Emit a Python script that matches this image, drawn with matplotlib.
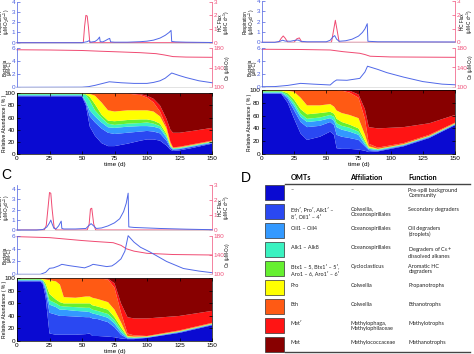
import matplotlib
matplotlib.use("Agg")
import matplotlib.pyplot as plt
from matplotlib.patches import Rectangle

plt.rcParams['font.family'] = ['Liberation Sans', 'DejaVu Sans']

# ---------------- data ----------------
LAYER_COLORS = ['#0a0ad2', '#2a48f2', '#3399ff', '#3af2c0', '#66f030',
                '#ffff00', '#ff5a14', '#ff1414', '#880000']

# Panel A
A_resp_t = [0, 50, 52, 54, 55.5, 56.5, 58, 60, 62, 63.5, 64, 66, 68, 70, 71.3, 72, 75, 85, 95, 100, 105, 110, 114, 117, 118.5, 119, 122, 130, 150]
A_resp   = [0, 0, 0.05, 0.1, 0.2, 0.05, 0.08, 0.12, 0.3, 0.55, 0.1, 0.08, 0.2, 0.35, 0.42, 0.08, 0.05, 0.05, 0.1, 0.15, 0.25, 0.45, 0.72, 1.0, 1.2, 0.12, 0.08, 0.05, 0.02]
A_hc_t = [0, 51, 52, 53, 54, 55, 56, 150]
A_hc   = [0, 0, 1.2, 2.0, 1.95, 1.1, 0, 0]
A_bact_t = [0, 50, 55, 60, 65, 71, 80, 90, 100, 105, 110, 114, 119, 125, 130, 140, 150]
A_bact   = [0, 0.02, 0.1, 0.3, 0.55, 0.85, 0.7, 0.6, 0.6, 0.75, 1.0, 1.4, 2.2, 1.8, 1.5, 1.0, 0.7]
A_o2_t = [0, 25, 50, 64, 80, 95, 107, 113, 120, 130, 150]
A_o2   = [177, 176.5, 175.5, 174, 172.5, 171, 169, 166.5, 163, 162, 161.5]
A_ab_t  = [0, 50, 53, 56, 60, 65, 70, 75, 85, 95, 100, 105, 110, 115, 118, 120, 125, 135, 150]
A_bg    = [95, 95, 80, 45, 30, 18, 13, 13, 17, 22, 24, 24, 22, 14, 7, 5, 6, 10, 17]
A_sec   = [96, 96, 84, 62, 52, 42, 35, 33, 35, 37, 38, 37, 34, 22, 10, 7, 8, 12, 18]
A_oil   = [97, 97, 86, 72, 62, 52, 44, 43, 45, 46, 46, 45, 42, 27, 12, 8, 9, 13, 19]
A_alk   = [98.5, 98.5, 97, 88, 72, 60, 50, 48, 50, 51, 52, 50, 46, 30, 13, 9, 10, 14, 20]
A_aro   = [99, 99, 98.5, 94, 82, 65, 55, 54, 56, 57, 57, 55, 50, 33, 14, 9.5, 10.5, 14.5, 20.5]
A_pro   = [99.5, 99.5, 99.5, 99, 96, 85, 72, 70, 72, 72, 72, 70, 62, 42, 18, 10, 11, 15, 21]
A_eth   = [100, 100, 100, 100, 100, 100, 100, 100, 99.5, 97, 93, 85, 70, 45, 20, 11, 12, 16, 22]
A_metp  = [100, 100, 100, 100, 100, 100, 100, 100, 100, 98.5, 96, 91, 80, 58, 40, 35, 35, 38, 43]

# Panel B
B_resp_t = [0, 10, 14, 16, 18, 22, 26, 28, 30, 35, 50, 53, 55, 56.5, 58, 60, 65, 70, 75, 78, 80, 81.8, 82.3, 90, 150]
B_resp   = [0, 0, 0.1, 0.2, 0.12, 0.1, 0.2, 0.22, 0.1, 0.05, 0.05, 0.2, 0.5, 0.65, 0.3, 0.1, 0.15, 0.3, 0.6, 0.95, 1.3, 1.8, 0.1, 0.05, 0.03]
B_hc_t = [0, 13, 15, 16.5, 18, 20, 25, 27, 29, 31, 54, 55.5, 57, 58.5, 60, 150]
B_hc   = [0, 0, 0.3, 0.46, 0.3, 0, 0, 0.25, 0.32, 0, 0, 0.8, 1.6, 0.8, 0, 0]
B_bact_t = [0, 10, 20, 30, 40, 53, 56, 58, 66, 76, 80, 82, 90, 97, 110, 125, 140, 150]
B_bact   = [0, 0.02, 0.2, 0.52, 0.4, 0.27, 0.8, 1.05, 1.0, 1.3, 2.3, 3.2, 2.7, 2.2, 1.5, 0.8, 0.4, 0.3]
B_o2_t = [0, 30, 53, 63, 76, 80, 84, 100, 150]
B_o2   = [178, 177.5, 176.5, 173, 169.6, 167, 163.5, 162, 161.2]
B_ab_t  = [0, 15, 20, 25, 30, 35, 45, 53, 56, 58, 62, 68, 75, 80, 83, 90, 110, 130, 150]
B_bg    = [94, 94, 80, 55, 32, 22, 27, 35, 30, 9, 8, 8, 7, 5, 3, 4, 12, 25, 45]
B_sec   = [95, 95, 86, 68, 50, 42, 44, 50, 45, 30, 27, 25, 22, 12, 6, 5, 13, 26, 46]
B_oil   = [96, 96, 89, 75, 58, 50, 52, 56, 52, 42, 38, 35, 30, 15, 8, 6, 14, 27, 46.5]
B_alk   = [97.5, 97.5, 92, 80, 63, 55, 57, 61, 58, 48, 44, 41, 35, 18, 9, 7, 14.5, 27.5, 47]
B_aro   = [98.5, 98.5, 95, 85, 70, 62, 64, 66, 63, 55, 50, 46, 40, 21, 10, 7.5, 15, 28, 47.5]
B_pro   = [99.5, 99.5, 99, 97, 88, 76, 76, 78, 74, 68, 64, 61, 56, 30, 12, 8, 15.5, 28.5, 48]
B_eth   = [100, 100, 100, 100, 100, 100, 100, 100, 100, 100, 99, 96, 88, 55, 16, 10, 17, 30, 49]
B_metp  = [100, 100, 100, 100, 100, 100, 100, 100, 100, 100, 100, 99, 93, 70, 42, 40, 42, 48, 61]

# Panel C
C_resp_t = [0, 15, 20, 23, 25, 26, 27, 28.5, 30, 32, 34, 34.5, 36, 45, 53, 55, 57, 59, 61, 65, 70, 75, 79, 82, 84, 85.5, 86, 90, 110, 130, 150]
C_resp   = [0, 0, 0.05, 0.3, 0.7, 0.97, 0.6, 0.15, 0.1, 0.4, 0.87, 0.15, 0.1, 0.1, 0.15, 0.4, 0.62, 0.4, 0.15, 0.2, 0.4, 0.7, 1.1, 1.8, 2.6, 3.6, 0.3, 0.25, 0.15, 0.08, 0.03]
C_hc_t = [0, 21, 22.5, 24, 25, 26, 27, 28.5, 30, 54, 55.5, 56.5, 57.5, 59, 60.5, 150]
C_hc   = [0, 0, 0.3, 1.6, 2.5, 2.45, 1.4, 0.2, 0, 0, 0.4, 1.4, 1.45, 0.4, 0, 0]
C_bact_t = [0, 18, 22, 25, 28, 32, 34.5, 40, 47, 52, 56, 58.5, 63, 69, 73, 76, 80, 83, 85.5, 90, 95, 102, 115, 128, 140, 150]
C_bact   = [0, 0, 0.3, 0.93, 1.0, 1.3, 1.55, 1.35, 1.15, 1.0, 1.3, 1.55, 1.4, 1.2, 1.3, 1.7, 2.4, 3.6, 6.0, 5.0, 4.2, 3.5, 2.0, 0.9, 0.5, 0.25]
C_o2_t = [0, 25, 50, 60, 74, 80, 84, 90, 100, 120, 150]
C_o2   = [178, 176, 170, 168, 165.5, 160, 153, 148, 143.5, 141, 140]
C_ab_t  = [0, 18, 20, 22, 25, 30, 33, 36, 45, 53, 56, 58, 62, 70, 75, 80, 85, 90, 100, 125, 150]
C_bg    = [95, 95, 90, 70, 12, 10, 10, 10, 10, 11, 12, 8, 8, 7, 6, 4, 3, 3, 5, 13, 25]
C_sec   = [96, 96, 93, 80, 45, 42, 40, 40, 39, 38, 38, 36, 35, 30, 22, 10, 4, 4, 5.5, 14, 26]
C_oil   = [97, 97, 95, 85, 58, 54, 50, 50, 48, 47, 46, 44, 42, 37, 28, 14, 5, 5, 6, 14.5, 26.5]
C_alk   = [98, 98, 96, 88, 65, 60, 56, 55, 54, 53, 53, 50, 48, 43, 33, 18, 6, 5.5, 6.5, 15, 27]
C_aro   = [99, 99, 97.5, 92, 75, 66, 62, 60, 60, 60, 60, 57, 55, 50, 38, 22, 7, 6, 7, 15.5, 27.5]
C_pro   = [99.5, 99.5, 99, 98, 97, 95, 90, 70, 69, 71, 71, 69, 67, 62, 50, 30, 8, 7, 7.5, 16, 28]
C_eth   = [100, 100, 100, 100, 100, 100, 100, 100, 100, 100, 100, 100, 100, 98, 85, 45, 12, 9, 8, 17, 29]
C_metp  = [100, 100, 100, 100, 100, 100, 100, 100, 100, 100, 100, 100, 100, 99.5, 92, 60, 38, 36, 36, 40, 48]

# Panel D table
D_headers = ['OMTs', 'Affiliation', 'Function']
D_omts = ['\u2013', "Eth\u2032, Pro\u2032, Alk1\u2032 \u2013\n8\u2032, Oil1\u2032 \u2013 4\u2032", 'Oil1 \u2013 Oil4',
          'Alk1 \u2013 Alk8', "Btx1 \u2013 5, Btx1\u2032 \u2013 5\u2032,\nAro1 \u2013 6, Aro1\u2032 \u2013 6\u2032",
          'Pro', 'Eth', "Met\u2032", 'Met']
D_affil = ['\u2013', 'Colwellia,\nOceanospirillales', 'Oceanospirillales', 'Oceanospirillales',
           'Cycloclasticus', 'Colwellia', 'Colwellia', 'Methylophaga,\nMethylophilaceae', 'Methylococcaceae']
D_func = ['Pre-spill background\nCommunity', 'Secondary degraders', 'Oil degraders\n(droplets)',
          'Degraders of C$_6$+\ndissolved alkanes', 'Aromatic HC\ndegraders', 'Propanotrophs',
          'Ethanotrophs', 'Methylotrophs', 'Methanotrophs']

# ---------------- drawing ----------------
W, H = 474, 354
fig = plt.figure(figsize=(W / 100, H / 100), dpi=100)

BLUE = '#5068e8'
RED = '#f04a72'
BLUE_T = '#4a5ee0'
RED_T = '#f0507a'
FS = 4.6
LFS = 3.3


def rect(x0, y0, x1, y1):
    return [x0 / W, 1 - y1 / H, (x1 - x0) / W, (y1 - y0) / H]


def style_twin(ax, ax2):
    ax.spines['top'].set_visible(False)
    ax2.spines['top'].set_visible(False)
    ax.spines['left'].set_color(BLUE_T)
    ax2.spines['right'].set_color(RED_T)
    ax2.spines['left'].set_visible(False)
    ax.spines['right'].set_visible(False)
    ax.spines['bottom'].set_color('#d8d8d8')
    ax2.spines['bottom'].set_visible(False)
    for s in ['left', 'right', 'bottom']:
        ax.spines[s].set_linewidth(0.5)
        ax2.spines[s].set_linewidth(0.5)
    ax.set_xticks([])
    ax.tick_params(axis='y', direction='in', length=2, width=0.5, labelsize=FS,
                   colors=BLUE_T, pad=1.2)
    ax2.tick_params(axis='y', direction='in', length=2, width=0.5, labelsize=FS,
                    colors=RED_T, pad=1.2)
    ax.set_xlim(0, 150)
    ax.patch.set_visible(False)


def draw_panel(box_top, box_mid, box_ab, resp_t, resp, hc_t, hc, bact_t, bact,
               o2_t, o2, ab_t, tops, left_top=4.0):
    x0, x1 = box_top[0], box_top[2]
    wpx = x1 - x0
    lab_x = -4.8 / wpx       # right edge of left labels
    ab_lab_x = -10.0 / wpx
    hc_lab_x = 1 + 5.5 / wpx  # left edge of right labels
    o2_lab_x = 1 + 11.0 / wpx
    # respiration / HC flux
    ax = fig.add_axes(rect(*box_top))
    ax2 = ax.twinx()
    style_twin(ax, ax2)
    ax2.plot(hc_t, hc, color=RED, lw=0.7, clip_on=False)
    ax.plot(resp_t, resp, color=BLUE, lw=0.7, clip_on=False, zorder=5)
    ax.set_zorder(ax2.get_zorder() + 1)
    ax.set_ylim(0, left_top)
    ax.set_yticks([0, 1, 2, 3, 4])
    ax2.set_ylim(0, 3)
    ax2.set_yticks([0, 1, 2, 3])
    ax.set_ylabel('Respiration\n(\u03bcM-O$_2$d$^{-1}$)', fontsize=LFS, linespacing=0.95)
    ax.yaxis.set_label_coords(lab_x, 0.5)
    ax2.set_ylabel('HC Flux\n(\u03bcM-C d$^{-1}$)', fontsize=LFS, linespacing=0.95)
    ax2.yaxis.set_label_coords(hc_lab_x, 0.5)

    # bacteria / O2
    bx = fig.add_axes(rect(*box_mid))
    bx2 = bx.twinx()
    style_twin(bx, bx2)
    bx2.plot(o2_t, o2, color=RED, lw=0.7, clip_on=False)
    bx.plot(bact_t, bact, color=BLUE, lw=0.7, clip_on=False)
    bx.set_zorder(bx2.get_zorder() + 1)
    bx.set_ylim(0, 6)
    bx.set_yticks([0, 2, 4, 6])
    bx2.set_ylim(100, 180)
    bx2.set_yticks([100, 140, 180])
    bx.set_ylabel('Bacteria\n(\u03bcM-C)', fontsize=LFS, linespacing=0.95)
    bx.yaxis.set_label_coords(lab_x, 0.5)
    bx2.set_ylabel('O$_2$ (\u03bcM-O$_2$)', fontsize=LFS)
    bx2.yaxis.set_label_coords(o2_lab_x, 0.5)

    # relative abundance
    cx = fig.add_axes(rect(*box_ab))
    lower = [0] * len(ab_t)
    for top, col in zip(tops + [[100] * len(ab_t)], LAYER_COLORS):
        cx.fill_between(ab_t, lower, top, color=col, lw=0, edgecolor='none')
        lower = top
    cx.set_xlim(0, 150)
    cx.set_ylim(0, 100)
    cx.set_xticks([0, 25, 50, 75, 100, 125, 150])
    cx.set_yticks([0, 20, 40, 60, 80, 100])
    cx.tick_params(direction='in', length=2, width=0.5, labelsize=FS, pad=1.5,
                   top=True, right=True)
    for s in cx.spines.values():
        s.set_linewidth(0.5)
    cx.set_xlabel('time (d)', fontsize=FS, labelpad=0.5)
    cx.set_ylabel('Relative Abundance ( % )', fontsize=3.6)
    cx.yaxis.set_label_coords(ab_lab_x, 0.5)


draw_panel((17, 1.7, 212, 42.7), (17, 48.3, 212, 87.3), (17, 93.3, 212, 154),
           A_resp_t, A_resp, A_hc_t, A_hc, A_bact_t, A_bact, A_o2_t, A_o2,
           A_ab_t, [A_bg, A_sec, A_oil, A_alk, A_aro, A_pro, A_eth, A_metp])
draw_panel((262, 1, 455, 42.3), (262, 48.3, 455, 86.7), (262, 90, 455, 154),
           B_resp_t, B_resp, B_hc_t, B_hc, B_bact_t, B_bact, B_o2_t, B_o2,
           B_ab_t, [B_bg, B_sec, B_oil, B_alk, B_aro, B_pro, B_eth, B_metp])
draw_panel((17, 185, 212, 230), (17, 235.7, 212, 274.3), (17, 278.3, 212, 341),
           C_resp_t, C_resp, C_hc_t, C_hc, C_bact_t, C_bact, C_o2_t, C_o2,
           C_ab_t, [C_bg, C_sec, C_oil, C_alk, C_aro, C_pro, C_eth, C_metp],
           left_top=4.4)

# panel letters
fig.text(1 / W, 1 - 175 / H, 'C', fontsize=10, va='center', ha='left')
fig.text(241 / W, 1 - 178.5 / H, 'D', fontsize=10, va='center', ha='left')

# ---------------- table (panel D) ----------------
tx = fig.add_axes([0, 0, 1, 1])
tx.set_xlim(0, W)
tx.set_ylim(H, 0)
tx.axis('off')
TF = 'Lato'
col_x = [291, 350.5, 408.5]
for x, h in zip(col_x, D_headers):
    tx.text(x, 177, h, fontsize=5.2, fontweight='bold', family=TF, va='center', ha='left')
tx.plot([285, 470], [184, 184], color='#444444', lw=1.0)
tx.plot([285, 470], [351.8, 351.8], color='#444444', lw=1.0)
row_top0 = 185
row_step = 19.0
for i in range(len(D_omts)):
    y0 = row_top0 + i * row_step
    tx.add_patch(Rectangle((265.3, y0), 18.4, 14.6, facecolor=LAYER_COLORS[i],
                           edgecolor='#333333', lw=0.5))
    for x, txt in zip(col_x, [D_omts[i], D_affil[i], D_func[i]]):
        tx.text(x, y0 + 2.6, txt, fontsize=3.95, family=TF, va='top', ha='left',
                linespacing=1.2, color='#222222')

fig.savefig('out.png', dpi=100)
